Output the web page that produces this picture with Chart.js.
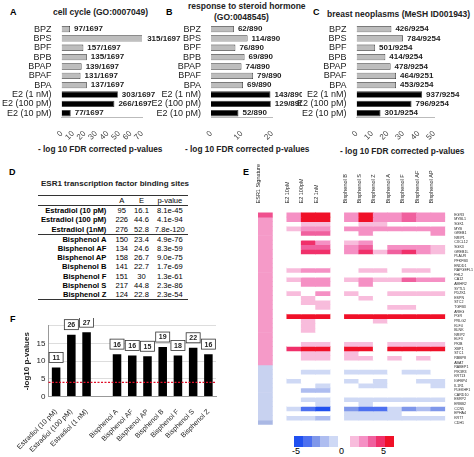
<!DOCTYPE html>
<html><head><meta charset="utf-8">
<script src="https://cdn.jsdelivr.net/npm/chart.js@4.4.0/dist/chart.umd.min.js"></script>
<style>
body{margin:0;width:474px;height:457px;position:relative;background:#fff;font-family:Arial,"Liberation Sans",sans-serif;overflow:hidden}
canvas{position:absolute}
.t{position:absolute;font-weight:bold;font-size:8.5px;color:#222;white-space:nowrap}
.L{position:absolute;font-weight:bold;font-size:9px}
table{position:absolute;border-collapse:collapse;font-size:7.6px;left:38px;top:195px;white-space:nowrap}
td{padding:0 3px;line-height:9.2px;text-align:center}
td.n{font-weight:bold;text-align:right;padding-right:6px}
</style></head><body>
<div class="L" style="left:10px;top:7px">A</div>
<div class="t" style="left:53px;top:7px">cell cycle (GO:0007049)</div>
<div class="L" style="left:166px;top:7px">B</div>
<div class="t" style="left:188px;top:1px">response to steroid hormone</div>
<div class="t" style="left:214px;top:12px">(GO:0048545)</div>
<div class="L" style="left:313px;top:7px">C</div>
<div class="t" style="left:327px;top:9px">breast neoplasms (MeSH ID001943)</div>
<div class="t" style="left:38px;top:144px;font-size:8.3px">- log 10 FDR corrected p-values</div>
<div class="t" style="left:185px;top:144px;font-size:8.3px">- log 10 FDR corrected p-values</div>
<div class="t" style="left:340px;top:146px;font-size:8.3px">- log 10 FDR corrected p-values</div>
<div class="L" style="left:9px;top:167px">D</div>
<div class="t" style="left:41px;top:179px;font-size:8px">ESR1 transcription factor binding sites</div>
<table id="tbl"></table>
<div class="L" style="left:243px;top:167px">E</div>
<div class="L" style="left:10px;top:314px">F</div>
<div id="cbar" style="position:absolute;left:294px;top:436px;width:100px;height:11px;display:flex"></div>
<div style="position:absolute;left:292px;top:446px;font-size:9px">-5</div>
<div style="position:absolute;left:339px;top:446px;font-size:9px">0</div>
<div style="position:absolute;left:381px;top:446px;font-size:9px">5</div>
<canvas id="cB"></canvas><canvas id="cC"></canvas><canvas id="cA"></canvas>
<canvas id="cE"></canvas><canvas id="cF"></canvas>
<script>
const hCats=["BPZ","BPS","BPF","BPB","BPAP","BPAF","BPA","E2 (1 nM)","E2 (100 pM)","E2 (10 pM)"];
const valsA=[7.4,71,19,22,17.5,16.5,22,49,46,8];
const lblA=["97/1697","315/1697","157/1697","135/1697","139/1697","131/1697","137/1697","303/1697","266/1697","77/1697"];
const valsB=[7.5,12,8,11,10,13.8,10.5,19.5,19.6,9];
const lblB=["62/890","114/890","76/890","69/890","74/890","79/890","69/890","143/890","129/890","52/890"];
const valsC=[22.5,30,12,18.6,22,25.5,25.5,42.3,35.5,15.5];
const lblC=["426/9254","784/9254","501/9254","414/9254","478/9254","464/9251","453/9254","937/9254","796/9254","301/9254"];

const tblHead=["","A","E","p-value"];
const tblNames=["Estradiol (10 pM)","Estradiol (100 pM)","Estradiol (1nM)","Bisphenol A","Bisphenol AF","Bisphenol AP","Bisphenol B","Bisphenol F","Bisphenol S","Bisphenol Z"];
const tblA=[95,226,276,150,134,158,141,151,217,124];
const tblE=["16.1","44.6","52.8","23.4","24.6","26.7","22.7","30","44.8","22.8"];
const tblP=["8.1e-45","4.1e-94","7.8e-120","4.9e-76","8.3e-59","9.0e-75","1.7e-69","1.3e-61","2.3e-86","2.3e-54"];

const fCats=["Estradiol (10 pM)","Estradiol (100 pM)","Estradiol (1 nM)","","Bisphenol A","Bisphenol AF","Bisphenol AP","Bisphenol B","Bisphenol F","Bisphenol S","Bisphenol Z"];
const fVals=[8.2,17.5,18.2,null,12,11.6,11.4,14,11.6,13.8,12];
const fLbl=["11","26","27","","16","16","15","19","18","22","16"];
const fThreshold=4;

const hmCols=["ESR1 Signature","","E2 10pM","E2 100pM","E2 1nM","","Bisphenol B","Bisphenol S","Bisphenol Z","Bisphenol A","Bisphenol F","Bisphenol AF","Bisphenol AP"];
const genes=["EGR3","MYBL1","SGK1","MYB","GREB1","NRIP1","CXCL12","SGK3","GREB1L","PLAUR","PFKFB3","ENDD1","RAPGEFL1","FHL2","CA12","AMHR2","SYTL5","PDZK1","ESPN","STC2","TGFB3","AREG","PGR","PRLG2","KLF4","BLNK","NRIP2","ELF3","PKIB","XBP1","STC1","RBBP8","ABAT","RABEP1","PIK3R3","KRT13","IGFBP4","IL1R1","PLEKHF1","CARD10","ESRP2","ERBB2","CCN5","EPHA4","KRT7","CDH1"];
const signature=[4,2,2,2,2,2,2,2,2,2,2,2,2,2,2,2,2,2,2,2,2,2,2,2,2,2,2,2,2,2,2,2,2,-1,-1,-1,-1,-1,-1,-1,-1,-1,-1,-1,-1,-2];
const hm=[
[2,5,5,2,5,2,2,3,2,2],[2,5,5,2,5,2,2,3,2,2],[0,1,1,0,1,1,0,0,0,0],[1,2,2,2,2,2,2,2,2,2],
[0,3,3,0,2,0,0,0,0,2],[0,0,0,0,0,0,0,0,0,0],[0,4,2,1,2,0,0,0,0,0],[0,3,3,2,3,0,2,2,2,1],
[0,4,4,2,4,1,3,4,2,1],[0,0,0,0,0,0,0,0,0,0],[0,0,0,0,0,0,0,0,0,0],[0,0,0,0,0,0,0,0,0,0],
[1,2,2,0,1,1,0,1,1,0],[0,0,0,0,0,0,0,0,0,0],[1,2,2,1,2,1,1,3,2,2],[0,2,2,0,2,0,0,0,0,0],
[0,0,0,0,0,0,0,0,0,0],[1,0,2,1,0,0,1,1,1,1],[0,1,0,0,1,0,0,0,0,0],[0,1,1,0,0,0,0,0,0,0],
[0,0,1,0,0,0,1,1,0,0],[0,0,0,0,0,0,0,0,0,0],[5,5,5,5,5,5,5,5,5,5],[0,1,0,0,0,1,0,0,0,0],
[0,1,0,0,0,0,0,0,0,0],[0,1,0,0,0,0,0,0,0,0],[0,0,0,0,0,0,0,0,0,0],[0,0,0,0,0,0,0,0,0,0],
[0,1,1,1,1,0,1,1,1,1],[4,5,5,5,5,0,5,5,5,5],[0,1,1,1,0,0,0,0,0,0],[0,1,1,1,1,0,1,0,1,0],
[0,0,0,0,0,0,0,0,0,0],[0,0,0,0,0,0,0,0,0,0],[0,-1,-1,-1,-1,-1,0,-1,-1,0],[0,0,0,0,0,0,0,0,0,0],
[-1,0,0,-1,0,-1,0,0,-1,-1],[0,0,-1,0,-1,-1,0,0,0,-1],[0,-2,-2,0,0,0,0,0,0,0],[0,0,0,0,0,0,0,0,0,0],
[0,-1,-1,-1,-1,-1,-1,-1,-1,-1],[0,0,-1,0,-1,0,0,0,0,0],[-1,-4,-5,-3,-4,-4,-1,-3,-2,-3],[0,0,0,-1,-1,-1,-1,0,0,0],
[-1,-1,-2,-1,-1,-1,-1,-1,-1,-1],[0,0,0,0,0,0,0,0,0,0]];
const cbarLevels=[-5,-4,-3,-2,-1,0,1,2,3,4,5];

const pos={5:"#f01028",4:"#f0306a",3:"#f0609e",2:"#f590c4",1:"#f8bcdc"};
const neg={1:"#cfd9f5",2:"#aebdf0",3:"#7f97ea",4:"#4d70f0",5:"#2050f0"};
function col(v){if(v>0)return pos[v];if(v<0)return neg[-v];return "#ffffff";}
const sigCol=v=>v===4?"#f0508e":v===2?"#f59ac8":v===-1?"#c8d2f0":v===-2?"#aab8e4":"#fff";

const cb=document.getElementById('cbar');
cbarLevels.forEach(v=>{const d=document.createElement('div');if(v===0){d.style.width='12px';}else{d.style.flex='1';d.style.background=col(v);}cb.appendChild(d);});

const tb=document.getElementById('tbl');
let h='<tr style="border-top:1px solid #333;border-bottom:1px solid #333">'+tblHead.map(x=>'<td>'+x+'</td>').join('')+'</tr>';
tblNames.forEach((n,i)=>{h+='<tr'+((i===2||i===9)?' style="border-bottom:1px solid #333"':'')+'><td class="n">'+n+'</td><td>'+tblA[i]+'</td><td>'+tblE[i]+'</td><td>'+tblP[i]+'</td></tr>';});
tb.innerHTML=h;

function place(id,l,t,w,hh){const c=document.getElementById(id);c.style.left=l+'px';c.style.top=t+'px';c.width=w;c.height=hh;return c;}
const endLabels={id:'endLabels',afterDatasetsDraw(ch){const o=ch.options.plugins.endLabels;if(!o||!o.labels)return;const ctx=ch.ctx;
 ch.getDatasetMeta(0).data.forEach((b,i)=>{ctx.save();ctx.font='bold 8px Arial';ctx.fillStyle='#222';ctx.textBaseline='middle';ctx.fillText(o.labels[i],b.x+4,b.y);ctx.restore();});}};
const boxLabels={id:'boxLabels',afterDatasetsDraw(ch){const o=ch.options.plugins.boxLabels;if(!o||!o.labels)return;const ctx=ch.ctx;
 ch.getDatasetMeta(0).data.forEach((b,i)=>{if(!o.labels[i])return;ctx.save();ctx.font='bold 7px Arial';ctx.textAlign='center';ctx.textBaseline='middle';
 const y=b.y-10;ctx.fillStyle='#fff';ctx.strokeStyle='#333';ctx.lineWidth=0.8;ctx.fillRect(b.x-7,y-5,14,10);ctx.strokeRect(b.x-7,y-5,14,10);
 ctx.fillStyle='#222';ctx.fillText(o.labels[i],b.x,y+0.5);ctx.restore();});
 const ys=ch.scales.y.getPixelForValue(o.thr);ctx.save();ctx.strokeStyle='#e0102a';ctx.setLineDash([2,1.5]);ctx.lineWidth=1.2;ctx.beginPath();ctx.moveTo(ch.chartArea.left,ys);ctx.lineTo(ch.chartArea.right,ys);ctx.stroke();ctx.restore();}};
Chart.register(endLabels,boxLabels);

function hbar(id,l,t,w,hh,vals,lbls,max,step,padR){
 new Chart(place(id,l,t,w,hh),{type:'bar',data:{labels:hCats,datasets:[{data:vals,
  backgroundColor:hCats.map(c=>c.startsWith('E2')?'#000':'#bdbdbd'),borderColor:'#333',borderWidth:0.8,barPercentage:0.8,categoryPercentage:0.85}]},
 options:{indexAxis:'y',responsive:false,animation:false,devicePixelRatio:1,layout:{padding:{right:padR,top:2}},
  plugins:{legend:{display:false},tooltip:{enabled:false},endLabels:{labels:lbls}},
  scales:{x:{min:0,max:max,ticks:{stepSize:step,autoSkip:false,font:{size:8},color:'#444',minRotation:45,maxRotation:45},grid:{display:false},border:{color:'#bbb'}},
   y:{ticks:{autoSkip:false,font:{size:9},color:'#222',padding:2},grid:{display:false},border:{display:false}}}}});
}
hbar('cA',0,17,200,128,valsA,lblA,70,10,58);
hbar('cB',150,17,152,128,valsB,lblB,20,10,30);
hbar('cC',295,17,179,128,valsC,lblC,50,10,40);

const hmDatasets=genes.map((g,r)=>({data:hmCols.map(()=>1),
 backgroundColor:hmCols.map((c,ci)=>{if(ci===0)return sigCol(signature[r]);if(c==='')return 'rgba(0,0,0,0)';const k=ci<5?ci-2:ci-3;return col(hm[r][k]);}),
 borderWidth:0,barPercentage:1,categoryPercentage:1}));
new Chart(place('cE',230,163,244,265),{type:'bar',data:{labels:hmCols,datasets:hmDatasets},
 options:{responsive:false,animation:false,devicePixelRatio:1,layout:{padding:{left:28}},
  plugins:{legend:{display:false},tooltip:{enabled:false}},
  scales:{x:{position:'top',stacked:true,ticks:{font:{size:5.5},color:'#222',minRotation:90,maxRotation:90,autoSkip:false,padding:1},grid:{display:false},border:{display:false}},
   y:{stacked:true,reverse:true,min:0,max:genes.length,display:false},
   y2:{type:'category',labels:genes,position:'right',offset:true,ticks:{font:{size:3.6},color:'#222',autoSkip:false,padding:1},grid:{display:false},border:{display:false}}}}});

new Chart(place('cF',0,318,222,139),{type:'bar',data:{labels:fCats,datasets:[{data:fVals,backgroundColor:'#000',barPercentage:0.7,categoryPercentage:0.8}]},
 options:{responsive:false,animation:false,devicePixelRatio:1,layout:{padding:{left:20,right:6}},
  plugins:{legend:{display:false},tooltip:{enabled:false},boxLabels:{labels:fLbl,thr:fThreshold}},
  scales:{x:{ticks:{font:{size:7},color:'#222',minRotation:45,maxRotation:45,autoSkip:false},grid:{display:false},border:{color:'#999'}},
   y:{min:0,max:20,ticks:{stepSize:5,font:{size:8},color:'#222',callback:v=>v===20?'':v},grid:{color:'#ddd',drawTicks:false},border:{color:'#999'},
    title:{display:true,text:'-log10 p-values',font:{size:8,weight:'bold'},color:'#222',padding:2}}}}});
</script></body></html>
